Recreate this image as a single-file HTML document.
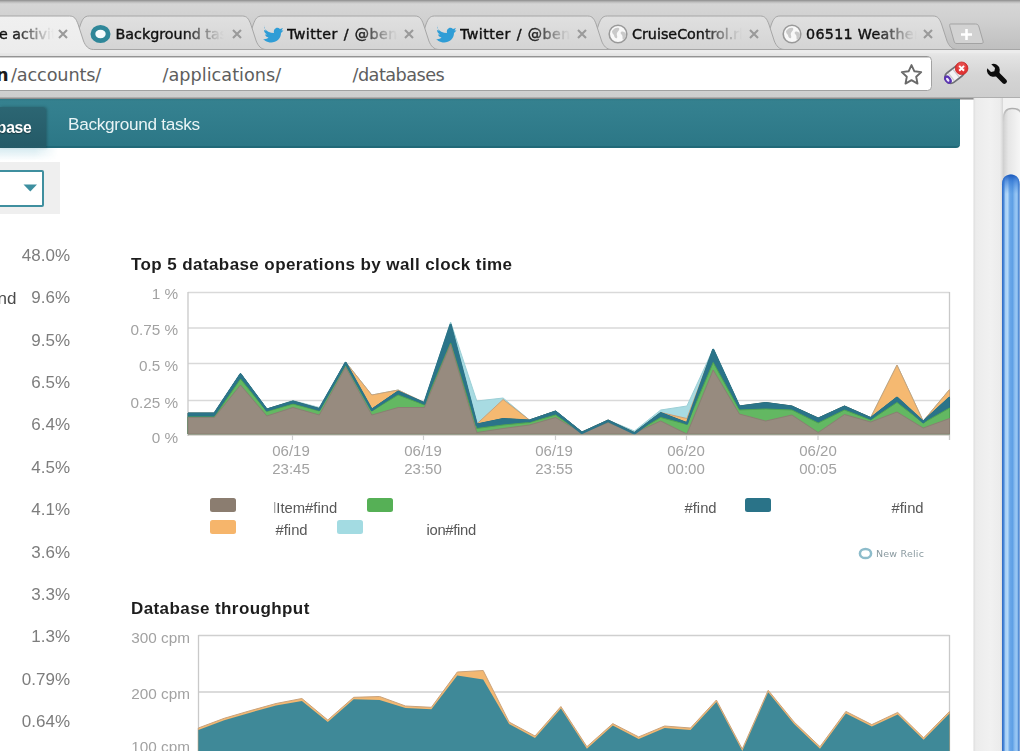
<!DOCTYPE html>
<html><head><meta charset="utf-8"><title>Databases</title>
<style>
html,body{margin:0;padding:0;}
body{width:1020px;height:751px;overflow:hidden;background:#fff;position:relative;font-family:"Liberation Sans",Arial,sans-serif;}
.abs{position:absolute;}
#wrap{position:absolute;left:0;top:0;width:1020px;height:751px;overflow:hidden;filter:blur(0.45px);}
#chrome{left:0;top:0;width:1020px;height:100px;background:linear-gradient(#8c8c8c 0,#bcbcbc 2px,#d6d6d6 4px,#d0d0d0 20px,#bfbfbf 49px,#ececec 50px,#e3e3e3 56px,#d5d5d5 75px,#cecece 97px,#909090 98px,#8a8a8a 99px,#c8c8c8 99.6px,#fff 100px);}
.tt{position:absolute;top:25px;font-family:"DejaVu Sans","Liberation Sans",sans-serif;font-size:14.3px;color:#111;white-space:nowrap;overflow:hidden;line-height:18px;height:18px;letter-spacing:0;-webkit-text-stroke:0.4px #111;-webkit-mask-image:linear-gradient(90deg,#000 0,#000 calc(100% - 40px),rgba(0,0,0,.1) calc(100% - 6px),transparent 100%);mask-image:linear-gradient(90deg,#000 0,#000 calc(100% - 40px),rgba(0,0,0,.1) calc(100% - 6px),transparent 100%)}
.cx{position:absolute;top:26px;font-family:"DejaVu Sans",sans-serif;font-size:15px;font-weight:bold;color:#999;line-height:16px;}
#url{left:-6px;top:56px;width:934px;height:34px;background:#fff;border:1px solid #a9a9a9;border-top-color:#8e8e8e;border-radius:5px;box-sizing:border-box;box-shadow:inset 0 1px 1px rgba(0,0,0,.12);}
.ut{position:absolute;top:64px;font-family:"DejaVu Sans","Liberation Sans",sans-serif;font-size:17.7px;color:#5e5e5e;line-height:22px;white-space:nowrap;letter-spacing:0}
#nav{left:0;top:99px;width:960px;height:49px;background:linear-gradient(#2f7886 0,#35818f 2px,#337f8e 30%,#2c7786 100%);border-radius:0 0 4px 0;border-bottom:2px solid #216978;box-sizing:border-box;}
#navact{left:0;top:107px;width:46px;height:41px;background:linear-gradient(#2c6673,#245a67);border-radius:0 3px 0 0;box-shadow:1px 0 3px rgba(0,0,0,.25);}
.pct{position:absolute;right:950px;font-size:17px;color:#7d7d7d;line-height:18px;white-space:nowrap;text-align:right}
.yl{position:absolute;font-size:15.3px;color:#a2a2a2;line-height:16px;white-space:nowrap;text-align:right}
.xl{position:absolute;font-size:15px;color:#a2a2a2;line-height:18px;white-space:nowrap;text-align:center;width:80px}
.h{position:absolute;font-size:17px;letter-spacing:.41px;font-weight:bold;color:#1d1d1d;line-height:20px;white-space:nowrap}
.sw{position:absolute;width:26.5px;height:14.5px;border-radius:2.5px}
.lg{position:absolute;font-size:14.8px;color:#585858;line-height:16px;white-space:nowrap}
</style></head><body>
<div id="wrap">

<!-- ================= BROWSER CHROME ================= -->
<div id="chrome" class="abs"></div>
<svg class="abs" style="left:0;top:0" width="1020" height="99" viewBox="0 0 1020 99">
  <defs>
    <linearGradient id="tabi" x1="0" y1="0" x2="0" y2="1"><stop offset="0" stop-color="#e0e0e0"/><stop offset="1" stop-color="#d4d4d4"/></linearGradient>
    <linearGradient id="taba" x1="0" y1="0" x2="0" y2="1"><stop offset="0" stop-color="#f0f0f0"/><stop offset="1" stop-color="#ececec"/></linearGradient>
  </defs>
  <!-- inactive tabs, right to left so left overlaps -->
  <g fill="url(#tabi)" stroke="#a6a6a6" stroke-width="1">
    <path d="M756.0 49.5 C761.0 49.5 764.0 46 766.0 41 L771.5 24 C773.5 19 775.0 16 780.0 16 L933.0 16 C938.0 16 939.5 19 941.5 24 L947.0 41 C949.0 46 952.0 49.5 957.0 49.5 Z"/>
    <path d="M583.3 49.5 C588.3 49.5 591.3 46 593.3 41 L598.8 24 C600.8 19 602.3 16 607.3 16 L760.3 16 C765.3 16 766.8 19 768.8 24 L774.3 41 C776.3 46 779.3 49.5 784.3 49.5 Z"/>
    <path d="M410.6 49.5 C415.6 49.5 418.6 46 420.6 41 L426.1 24 C428.1 19 429.6 16 434.6 16 L587.6 16 C592.6 16 594.1 19 596.1 24 L601.6 41 C603.6 46 606.6 49.5 611.6 49.5 Z"/>
    <path d="M237.9 49.5 C242.9 49.5 245.9 46 247.9 41 L253.4 24 C255.4 19 256.9 16 261.9 16 L414.9 16 C419.9 16 421.4 19 423.4 24 L428.9 41 C430.9 46 433.9 49.5 438.9 49.5 Z"/>
    <path d="M65.2 49.5 C70.2 49.5 73.2 46 75.2 41 L80.7 24 C82.7 19 84.2 16 89.2 16 L242.2 16 C247.2 16 248.7 19 250.7 24 L256.2 41 C258.2 46 261.2 49.5 266.2 49.5 Z"/>
  </g>
  <!-- new tab button -->
  <path d="M950.5 24 L975.5 24 C977.5 24 978.5 25 979 27 L983 41 C983.5 43 983 43.5 981 43.5 L957 43.5 C955 43.5 954.5 43 954 41 L950 27 C949.5 25 949.5 24 950.5 24 Z" fill="#d2d2d2" stroke="#a3a3a3"/>
  <path d="M966.5 29 v11 M961 34.5 h11" stroke="#fff" stroke-width="2.6"/>
  <!-- active tab -->
  <path d="M-20 52 L-20 16 L69.5 16 C74.5 16 76.0 19 78.0 24 L83.5 41 C85.5 46 88.5 49.5 93.5 49.5 L1030 49.5 L1030 52 Z" fill="url(#taba)" stroke="#a6a6a6"/>
  <rect x="-2" y="50" width="1024" height="3" fill="#ececec"/>

  <!-- favicons -->
  <!-- new relic ring -->
  <g>
    <ellipse cx="100.5" cy="34" rx="7.600" ry="6.700" fill="#f6fcfd" stroke="#2f8799" stroke-width="4.800"/>
  </g>
  <!-- twitter birds -->
  <g id="bird1" fill="#2f9dd6">
    <path d="M264 28 c2 3 6 5 10 5 c-1 -4 3 -7 6 -4 l3 -1 l-1.5 2.5 l2 0 l-2.5 2.5 c0 7 -7 11 -13 9 c-2 -0.5 -4 -2 -5 -3 c2 0.5 4 0 5.500 -1.500 c-2 -0.500 -3 -1.500 -3.500 -3 l2 0 c-2 -1 -3 -3 -3 -4.500 l2 0.800 c-1.500 -1.500 -2 -3.500 -1 -5.800 Z"/>
  </g>
  <use href="#bird1" x="173"/>
  <!-- globes -->
  <g id="globe1">
    <circle cx="618" cy="34" r="8.800" fill="#f8f8f8" stroke="#999" stroke-width="1.600"/>
    <path d="M612 31 c2 -3 5 -4 7 -3 c1 2 -1 3 -2 5 c-1 2 1 3 0 5 c-1 1 -3 -1 -3 -3 c-1 -1 -2 -2 -2 -4 Z M621 32 c2 -1 4 0 5 2 c0 3 -1 5 -3 6 c-1 -2 0 -3 -1 -5 c-1 -1 -2 -2 -1 -3 Z" fill="#c9c9c9"/>
  </g>
  <use href="#globe1" x="174"/>

  <rect x="-6" y="56.500" width="937.500" height="34" rx="4" fill="#fff" stroke="#a2a2a2"/>
  <path d="M-2 57 H928.500" stroke="#7f7f7f" stroke-width="1.200" opacity=".75"/>
  <!-- star -->
  <path d="M911.5 65.1 L914.4 71.3 L921.2 72.1 L916.2 76.8 L917.5 83.6 L911.5 80.2 L905.5 83.6 L906.8 76.8 L901.8 72.1 L908.6 71.3 Z" fill="#fff" stroke="#6a6a6a" stroke-width="1.9" stroke-linejoin="round"/>
  <!-- extension icon -->
  <g>
    <g transform="translate(954.5 74.5) rotate(-38)">
      <rect x="-10.500" y="-5.800" width="21" height="11.600" rx="5.500" fill="#f3f3f5" stroke="#6f7075" stroke-width="1.700"/>
      <path d="M-4 -5 V5 M2 -5 V5" stroke="#c9cace" stroke-width="1.200"/>
      <ellipse cx="-8.300" cy="0" rx="3.200" ry="4.600" fill="#5a33b3"/>
      <ellipse cx="-8.600" cy="0" rx="1.200" ry="2.300" fill="#efe9fb"/>
    </g>
    <circle cx="961.600" cy="68.300" r="6.300" fill="#e03434" stroke="#c42525" stroke-width=".8"/>
    <circle cx="961.600" cy="66.500" r="4.300" fill="#ee6a6a" opacity=".45"/>
    <path d="M959.200 65.900 l4.800 4.800 M964 65.900 l-4.800 4.800" stroke="#fff" stroke-width="2"/>
  </g>
  <!-- wrench -->
  <g transform="translate(997.500 74.500) rotate(-45) scale(.9)">
    <path d="M-3.200 -13 a7.200 7.200 0 1 0 6.400 0 l0 6 l-3.200 2 l-3.200 -2 Z" fill="#0d0d0d"/>
    <rect x="-2.800" y="-2" width="5.600" height="15.500" rx="2.500" fill="#0d0d0d"/>
  </g>
</svg>

<!-- tab titles -->
<div class="tt fade-a" style="left:-1px;width:55px">e activity</div><svg class="abs" style="left:56.5px;top:28px" width="12" height="12"><path d="M2 2 L10 10 M10 2 L2 10" stroke="#9a9a9a" stroke-width="2.1" fill="none"/></svg>
<div class="tt fade-i" style="left:115.5px;width:108px">Background tasks</div><svg class="abs" style="left:230.5px;top:28px" width="12" height="12"><path d="M2 2 L10 10 M10 2 L2 10" stroke="#9a9a9a" stroke-width="2.1" fill="none"/></svg>
<div class="tt fade-i" style="left:287px;width:111px;word-spacing:1px;letter-spacing:.4px">Twitter / @benjamin</div><svg class="abs" style="left:402.5px;top:28px" width="12" height="12"><path d="M2 2 L10 10 M10 2 L2 10" stroke="#9a9a9a" stroke-width="2.1" fill="none"/></svg>
<div class="tt fade-i" style="left:460px;width:111px;word-spacing:1px;letter-spacing:.4px">Twitter / @benjamin</div><svg class="abs" style="left:575.5px;top:28px" width="12" height="12"><path d="M2 2 L10 10 M10 2 L2 10" stroke="#9a9a9a" stroke-width="2.1" fill="none"/></svg>
<div class="tt fade-i" style="left:632px;width:110px">CruiseControl.rb</div><svg class="abs" style="left:747.5px;top:28px" width="12" height="12"><path d="M2 2 L10 10 M10 2 L2 10" stroke="#9a9a9a" stroke-width="2.1" fill="none"/></svg>
<div class="tt fade-i" style="left:806px;width:111px;letter-spacing:.3px">06511 Weather</div><svg class="abs" style="left:921.5px;top:28px" width="12" height="12"><path d="M2 2 L10 10 M10 2 L2 10" stroke="#9a9a9a" stroke-width="2.1" fill="none"/></svg>

<!-- url text -->
<div class="ut" style="left:-4px;color:#1b1b1b;font-weight:bold">n</div>
<div class="ut" style="left:11px;letter-spacing:-0.15px">/accounts/</div>
<div class="ut" style="left:162.5px">/applications/</div>
<div class="ut" style="left:352.5px;letter-spacing:-0.55px">/databases</div>

<!-- ================= PAGE ================= -->
<div id="nav" class="abs"></div>
<div id="navact" class="abs"></div>
<div id="navb" class="abs" style="left:-16.500px;top:118px;font-size:15.700px;font-weight:bold;color:#fff;line-height:20px;letter-spacing:-0.3px;text-shadow:0 1px 1px rgba(0,0,0,.4)">tabase</div>
<div id="navt" class="abs" style="left:68px;top:113.5px;font-size:17.2px;color:#e9f4f6;line-height:20px;letter-spacing:-0.3px;white-space:nowrap">Background tasks</div>

<!-- left filter box -->
<div class="abs" style="left:0;top:148px;width:58px;height:13px;background:linear-gradient(rgba(200,228,236,.75),rgba(228,242,246,0));-webkit-mask-image:linear-gradient(90deg,#000 60%,transparent);mask-image:linear-gradient(90deg,#000 60%,transparent)"></div>
<div class="abs" style="left:0;top:162px;width:60px;height:52px;background:#efefef"></div>
<div class="abs" style="left:-10px;top:169.500px;width:53.500px;height:37px;box-sizing:border-box;border:2px solid #3f8f9f;background:#fff;border-radius:2px"></div>
<svg class="abs" style="left:22px;top:183px" width="18" height="10"><path d="M1.500 1.500 L15 1.500 L8.300 8.500 Z" fill="#3d8fa0"/></svg>

<!-- percentages -->
<div class="pct" style="top:246.8px">48.0%</div>
<div class="pct" style="top:289.2px">9.6%</div>
<div class="abs" style="left:-2.5px;top:289.5px;font-size:17px;color:#4a4a4a;line-height:18px">nd</div>
<div class="pct" style="top:331.6px">9.5%</div>
<div class="pct" style="top:374.0px">6.5%</div>
<div class="pct" style="top:416.4px">6.4%</div>
<div class="pct" style="top:458.8px">4.5%</div>
<div class="pct" style="top:501.2px">4.1%</div>
<div class="pct" style="top:543.6px">3.6%</div>
<div class="pct" style="top:586.0px">3.3%</div>
<div class="pct" style="top:628.4px">1.3%</div>
<div class="pct" style="top:670.8px">0.79%</div>
<div class="pct" style="top:713.2px">0.64%</div>

<!-- chart 1 -->
<div class="h" style="left:131px;top:254.500px">Top 5 database operations by wall clock time</div>
<div class="yl" style="right:842px;top:285.500px">1 %</div>
<div class="yl" style="right:842px;top:322px">0.75 %</div>
<div class="yl" style="right:842px;top:358px">0.5 %</div>
<div class="yl" style="right:842px;top:395px">0.25 %</div>
<div class="yl" style="right:842px;top:429.500px">0 %</div>

<svg class="abs" style="left:0;top:0" width="1020" height="751" viewBox="0 0 1020 751">
  <!-- grid -->
  <g stroke="#d9d9d9" stroke-width="1.300" fill="none">
    <path d="M188 292.500 H949.500 M188 328 H949.500 M188 363.500 H949.500 M188 400.500 H949.500"/>
    <path d="M188 292 V436 M949.500 292 V440" stroke="#c9c9c9"/>
  </g>
<polygon points="188.0,434.0 188.0,413.0 214.3,413.0 240.5,373.5 266.8,409.0 293.0,400.5 319.3,407.5 345.6,362.0 371.8,395.0 398.1,390.0 424.3,402.5 450.6,322.0 476.8,401.0 503.1,398.0 529.4,420.0 555.6,411.0 581.9,432.0 608.1,420.0 634.4,431.0 660.7,410.0 686.9,406.0 713.2,349.0 739.4,406.0 765.7,402.5 791.9,406.0 818.2,418.0 844.5,406.0 870.7,417.5 897.0,365.0 923.2,421.0 949.5,389.5 949.5,434.0" fill="#a8dbe2" stroke="#9ccfd6" stroke-width="1" stroke-linejoin="round"/>
<polygon points="188.0,434.0 188.0,413.0 214.3,413.0 240.5,373.5 266.8,409.0 293.0,401.0 319.3,408.5 345.6,362.0 371.8,395.0 398.1,390.0 424.3,402.5 450.6,324.0 476.8,424.0 503.1,399.5 529.4,420.0 555.6,411.0 581.9,432.0 608.1,420.0 634.4,432.5 660.7,412.5 686.9,418.5 713.2,349.0 739.4,406.0 765.7,402.5 791.9,406.0 818.2,418.0 844.5,406.0 870.7,417.5 897.0,365.0 923.2,421.0 949.5,389.5 949.5,434.0" fill="#f5b971" stroke="#c9a27a" stroke-width="1" stroke-linejoin="round"/>
<polygon points="188.0,434.0 188.0,413.0 214.3,413.0 240.5,373.5 266.8,409.0 293.0,401.0 319.3,408.5 345.6,362.0 371.8,409.0 398.1,391.0 424.3,402.5 450.6,324.0 476.8,424.0 503.1,418.5 529.4,420.0 555.6,411.0 581.9,432.0 608.1,420.0 634.4,432.5 660.7,412.5 686.9,422.5 713.2,349.0 739.4,406.0 765.7,402.5 791.9,406.0 818.2,418.0 844.5,406.0 870.7,417.5 897.0,397.0 923.2,421.0 949.5,397.0 949.5,434.0" fill="#2b7489" stroke="#256a7e" stroke-width="1" stroke-linejoin="round"/>
<polygon points="188.0,434.0 188.0,417.0 214.3,417.0 240.5,379.0 266.8,411.5 293.0,404.0 319.3,411.0 345.6,365.0 371.8,411.0 398.1,395.0 424.3,405.0 450.6,343.0 476.8,428.5 503.1,425.0 529.4,422.5 555.6,415.0 581.9,433.0 608.1,421.5 634.4,433.0 660.7,417.5 686.9,424.5 713.2,362.5 739.4,410.0 765.7,409.0 791.9,410.0 818.2,423.0 844.5,410.0 870.7,420.0 897.0,402.5 923.2,423.0 949.5,408.0 949.5,434.0" fill="#63b862" stroke="#4fa351" stroke-width="1" stroke-linejoin="round"/>
<polygon points="188.0,434.0 188.0,417.5 214.3,417.5 240.5,385.0 266.8,416.0 293.0,407.5 319.3,415.0 345.6,367.0 371.8,415.0 398.1,407.5 424.3,407.5 450.6,344.0 476.8,432.5 503.1,428.5 529.4,425.0 555.6,417.5 581.9,433.0 608.1,422.5 634.4,433.0 660.7,421.0 686.9,434.0 713.2,370.0 739.4,414.0 765.7,421.0 791.9,415.0 818.2,432.5 844.5,414.5 870.7,422.0 897.0,412.0 923.2,428.0 949.5,418.5 949.5,434.0" fill="#978b7f" stroke="#8a7f73" stroke-width="1" stroke-linejoin="round"/>
<polyline points="188.0,414.0 214.3,414.0 240.5,374.5 266.8,410.0 293.0,402.0 319.3,409.5 345.6,363.0 371.8,410.0 398.1,392.0 424.3,403.5 450.6,325.0 476.8,425.0 503.1,419.5 529.4,421.0 555.6,412.0 581.9,433.0 608.1,421.0 634.4,433.5 660.7,413.5 686.9,423.5 713.2,350.0 739.4,407.0 765.7,403.5 791.9,407.0 818.2,419.0 844.5,407.0 870.7,418.5 897.0,398.0 923.2,422.0 949.5,398.0" fill="none" stroke="#2b7489" stroke-width="2.4" stroke-linejoin="round"/>

  <g stroke="#cfcfcf" stroke-width="1.200">
    <path d="M188 435 H949.500" stroke="#bdb6ae"/>
    <path d="M292.500 435 v5 M423.500 435 v5 M555.500 435 v5 M686.500 435 v5 M818 435 v5"/>
  </g>
  <!-- chart 2 -->
  <g stroke="#cfcfcf" stroke-width="1.300" fill="none">
    <path d="M198.500 635.500 H949.500 M198.500 692 H949.500 M198.500 748.500 H949.500"/>
    <path d="M198.500 635 V751 M949.500 635 V751" stroke="#c9c9c9"/>
  </g>
<polygon points="198.3,760 198.3,728.0 224.2,718.3 250.1,710.7 276.0,703.5 301.9,698.5 327.8,720.0 353.7,697.3 379.6,696.5 405.5,706.0 431.4,707.3 457.3,672.0 483.2,670.5 509.1,722.0 535.0,736.0 560.9,706.5 586.9,746.7 612.8,723.6 638.7,736.9 664.6,726.0 690.5,728.0 716.4,700.0 742.3,749.0 768.2,690.3 794.1,722.0 820.0,746.7 845.9,711.4 871.8,724.6 897.7,712.4 923.6,737.8 949.5,711.4 949.5,760" fill="#f3b872" stroke="#c9a27a" stroke-width="1"/>
<polygon points="198.3,760 198.3,730.0 224.2,720.3 250.1,712.7 276.0,705.5 301.9,701.0 327.8,722.0 353.7,699.3 379.6,700.0 405.5,708.0 431.4,709.3 457.3,675.5 483.2,679.5 509.1,724.0 535.0,738.0 560.9,708.5 586.9,748.7 612.8,725.6 638.7,738.9 664.6,728.0 690.5,730.0 716.4,702.0 742.3,751.0 768.2,692.3 794.1,724.0 820.0,748.7 845.9,713.4 871.8,726.6 897.7,714.4 923.6,739.8 949.5,713.4 949.5,760" fill="#3f8998"/>


  <!-- New Relic mark -->
  <ellipse cx="865.500" cy="553.500" rx="5.600" ry="4.600" fill="#fff" stroke="#8dbccb" stroke-width="2.500"/>
  <text x="876" y="557" font-family="DejaVu Sans, Liberation Sans, sans-serif" font-size="9.500" fill="#8a9aa0" letter-spacing="0.200">New Relic</text>

  <!-- right gutter & scrollbar -->
  <defs>
    <linearGradient id="gut" x1="0" y1="0" x2="1" y2="0"><stop offset="0" stop-color="#dcdcdc"/><stop offset=".08" stop-color="#ececec"/><stop offset=".6" stop-color="#f1f1f1"/><stop offset=".93" stop-color="#ececec"/><stop offset="1" stop-color="#dedede"/></linearGradient>
    <linearGradient id="trk" x1="0" y1="0" x2="1" y2="0"><stop offset="0" stop-color="#cfcfcf"/><stop offset=".3" stop-color="#e6e6e6"/><stop offset="1" stop-color="#f7f7f7"/></linearGradient><linearGradient id="trks" x1="0" y1="0" x2="0" y2="1"><stop offset="0" stop-color="#adadad"/><stop offset="1" stop-color="#cfcfcf" stop-opacity="0"/></linearGradient><linearGradient id="thbt" x1="0" y1="0" x2="0" y2="1"><stop offset="0" stop-color="#1b58bb"/><stop offset=".35" stop-color="#2a6fd0" stop-opacity=".6"/><stop offset="1" stop-color="#3f84dc" stop-opacity="0"/></linearGradient>
    <linearGradient id="thb" x1="0" y1="0" x2="1" y2="0"><stop offset="0" stop-color="#2c66bf"/><stop offset=".1" stop-color="#4b89d9"/><stop offset=".2" stop-color="#a6cff6"/><stop offset=".32" stop-color="#b3d8f8"/><stop offset=".44" stop-color="#6ba7e9"/><stop offset=".6" stop-color="#5fa0e5"/><stop offset=".74" stop-color="#8fc0f2"/><stop offset=".86" stop-color="#98c7f4"/><stop offset=".95" stop-color="#4a86d2"/><stop offset="1" stop-color="#2f6cc4"/></linearGradient>
  </defs>
  <rect x="973.5" y="98" width="28.5" height="660" fill="url(#gut)"/>
  <rect x="1002" y="98" width="18" height="660" fill="#f1f1f1"/>
  <path d="M1002.5 98 V760" stroke="#d9d9d9" stroke-width="1"/>
  <path d="M1003 760 V119 C1003 112 1006.500 108 1012 108 C1017 108 1020 110 1021 113 V760 Z" fill="url(#trk)"/>
  <path d="M1003.500 124 V119 C1003.500 112 1007 108.500 1012 108.500 C1017 108.500 1020 110.500 1021 113" fill="none" stroke="url(#trks)" stroke-width="1.700"/>
  <path d="M1002 760 V184.500 C1002 178 1005.500 174.500 1010.800 174.500 C1016 174.500 1019.600 178 1019.600 184.500 V760 Z" fill="url(#thb)"/>
  <path d="M1002 194 V184.500 C1002 178 1005.500 174.500 1010.800 174.500 C1016 174.500 1019.600 178 1019.600 184.500 V194 Z" fill="url(#thbt)"/>
</svg>

<!-- x labels chart 1 -->
<div class="xl" style="left:251px;top:442px">06/19<br>23:45</div>
<div class="xl" style="left:383px;top:442px">06/19<br>23:50</div>
<div class="xl" style="left:514px;top:442px">06/19<br>23:55</div>
<div class="xl" style="left:646px;top:442px">06/20<br>00:00</div>
<div class="xl" style="left:778px;top:442px">06/20<br>00:05</div>

<!-- legend -->
<div class="sw" style="left:209.500px;top:497.500px;background:#8b7d70"></div>
<div class="sw" style="left:366.500px;top:497.500px;background:#56b056"></div>
<div class="sw" style="left:744.500px;top:497.500px;background:#2a7388"></div>
<div class="sw" style="left:209.500px;top:519.500px;background:#f6b56b"></div>
<div class="sw" style="left:336.500px;top:519.500px;background:#a3dbe2"></div>
<div class="lg" style="left:273px;top:499.500px"><span style="color:#aaa">l</span>Item#find</div>
<div class="lg" style="left:684.500px;top:499.500px">#find</div>
<div class="lg" style="left:891.500px;top:499.500px">#find</div>
<div class="lg" style="left:275.500px;top:521.500px">#find</div>
<div class="lg" style="left:426.500px;top:521.500px;letter-spacing:-0.3px">ion#find</div>

<!-- chart 2 -->
<div class="h" style="left:131px;top:598.5px">Database throughput</div>
<div class="yl" style="right:830px;top:630px">300 cpm</div>
<div class="yl" style="right:830px;top:686px">200 cpm</div>
<div class="yl" style="right:830px;top:739px">100 cpm</div>

</div>
</body></html>
